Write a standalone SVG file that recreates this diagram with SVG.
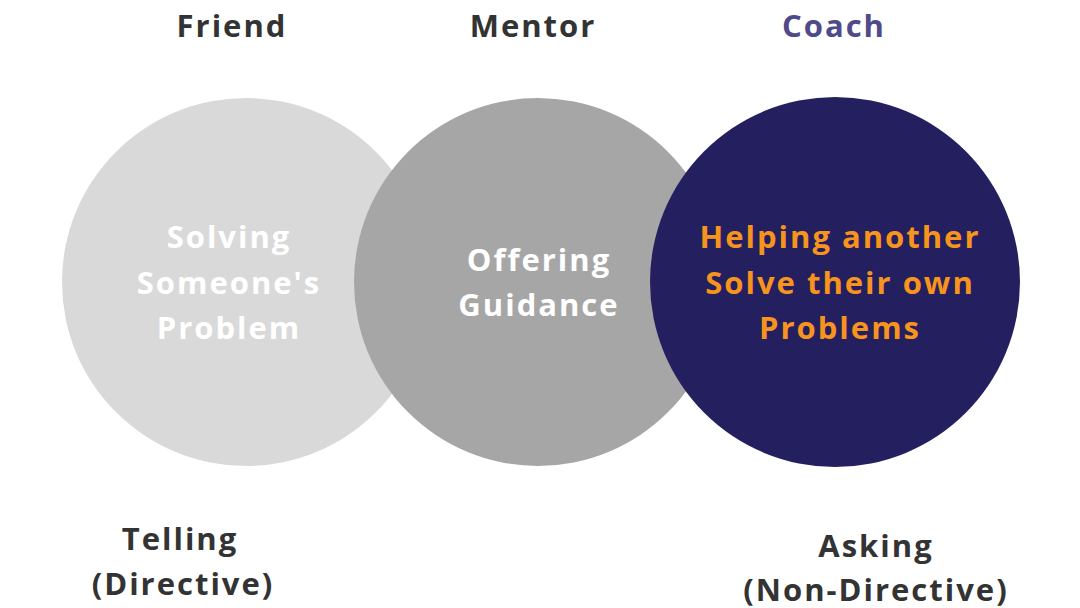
<svg xmlns="http://www.w3.org/2000/svg" width="1080" height="608" viewBox="0 0 1080 608">
<style>
text{font-family:"Open Sans","Liberation Sans",sans-serif;font-weight:700;font-size:31px;letter-spacing:2px;text-anchor:middle;dominant-baseline:central}
.h{fill:#333333}
.w{fill:#ffffff}
.o{fill:#f7941d}
</style>
<rect width="1080" height="608" fill="#ffffff"/>
<g id="friend">
<circle cx="246" cy="282" r="184" fill="#d9d9d9"/>
<text class="h" x="232" y="25">Friend</text>
<text class="w" x="229" y="236">Solving</text>
<text class="w" x="229" y="282">Someone's</text>
<text class="w" x="229" y="327">Problem</text>
</g>
<g id="mentor">
<circle cx="538" cy="282" r="184" fill="#a6a6a6"/>
<text class="h" x="533" y="25">Mentor</text>
<text class="w" x="539" y="259">Offering</text>
<text class="w" x="539" y="304">Guidance</text>
</g>
<g id="coach">
<circle cx="835" cy="282" r="185" fill="#241f5f"/>
<text x="834" y="25" fill="#4f4a8a">Coach</text>
<text class="o" x="840" y="236">Helping another</text>
<text class="o" x="840" y="282">Solve their own</text>
<text class="o" x="840" y="327">Problems</text>
</g>
<g id="telling">
<text class="h" x="180" y="538">Telling</text>
<text class="h" x="183" y="583">(Directive)</text>
</g>
<g id="asking">
<text class="h" x="876" y="545">Asking</text>
<text class="h" x="876" y="589">(Non-Directive)</text>
</g>
<g id="connectors"/>
</svg>
